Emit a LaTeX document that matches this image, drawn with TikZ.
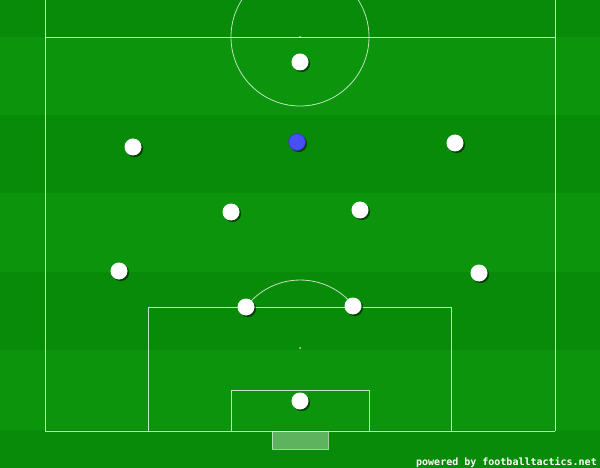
\documentclass[tikz,border=0pt]{standalone}
\usepackage{fontspec}
\newfontfamily\monofont{DejaVu Sans Mono}
\usepackage{tikz}
\usetikzlibrary{shadows}
\definecolor{grasslight}{RGB}{12,148,12}
\definecolor{grassdark}{RGB}{8,139,8}
\definecolor{playerblue}{RGB}{70,80,245}
\tikzset{
  pitchline/.style={white,opacity=0.75,line width=0.8pt},
  player/.style={circle,fill=white,minimum size=17pt,inner sep=0pt,
    drop shadow={shadow xshift=1.6pt,shadow yshift=-1.6pt,opacity=0.55,fill=black}},
  keeperball/.style={player,fill=playerblue,draw=playerblue!70!black,line width=0.6pt}
}
\begin{document}
\begin{tikzpicture}[x=1pt,y=-1pt]
			\useasboundingbox (0,0) rectangle (600,468);
			% grass stripes
			\fill[grassdark]  (0,0) rectangle (600,468);
			\fill[grasslight] (0,37) rectangle (600,115);
			\fill[grasslight] (0,193) rectangle (600,272);
			\fill[grasslight] (0,350) rectangle (600,430);

			% lines
			\draw[pitchline]  (45,0)-- (45,431);
			\draw[pitchline]  (555,0)-- (555,431);
			\draw[pitchline]  (45,431)-- (555,431);
			\draw[pitchline]  (45,37)-- (555,37);
			\draw[pitchline]  (300,37) circle[radius=69];
			\fill[white,opacity=0.75]  (300,37) circle[radius=1];
			\draw[pitchline]  (148,431)-- (148,307)-- (451,307)-- (451,431);
			\draw[pitchline]  (231,431)-- (231,390)-- (369,390)-- (369,431);
			\fill[white,opacity=0.75]  (300,348) circle[radius=1];
			\draw[pitchline]  (246,307) arc[start angle=-142.9,end angle=-37.1,radius=68];
			\fill[white,opacity=0.35]  (272,431) rectangle (328,449);
			\draw[white,opacity=0.6,line width=0.8pt]  (272,431) rectangle (328,449);

			% players
			\node[player] (st) at (300,62) {};
			\node[player] (lw) at (133,147) {};
			\node[keeperball] (ball) at (297,142) {};
			\node[player] (rw) at (455,143) {};
			\node[player] (lcm) at (231,212) {};
			\node[player] (rcm) at (360,210) {};
			\node[player] (lb) at (119,271) {};
			\node[player] (rb) at (479,273) {};
			\node[player] (lcb) at (246,307) {};
			\node[player] (rcb) at (353,306) {};
			\node[player] (gk) at (300,401) {};

			\node[anchor=base east,white,font=\monofont\bfseries\fontsize{10}{12}\selectfont,inner sep=0pt] (credit) at (597,465) {powered by footballtactics.net};
		\end{tikzpicture}
\end{document}
